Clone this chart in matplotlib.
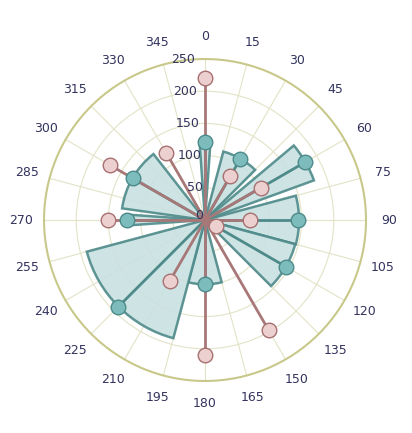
import numpy as np
import matplotlib
matplotlib.use("Agg")
import matplotlib.pyplot as plt

# Bars (wedges): start angle, end angle (deg), radius
bar_start = [-4, 15, 50, 75, 105, 165, 195, 266, 278]
bar_end = [4, 45, 70, 105, 135, 195, 255, 274, 322]
bar_value = [121, 110, 180, 146, 145, 100, 190, 121, 130]

# Teal series
teal_angle = [0, 30, 60, 90, 120, 180, 225, 270, 300]
teal_value = [121, 110, 180, 144, 146, 100, 190, 121, 129]

# Pink series
pink_angle = [0, 30, 60, 90, 120, 150, 180, 210, 270, 300, 330]
pink_value = [220, 79, 100, 70, 20, 198, 210, 110, 150, 170, 120]

rticks = [0, 50, 100, 150, 200, 250]
aticks = list(range(0, 360, 15))

fig = plt.figure(figsize=(4.12, 4.33), dpi=100)
ax = fig.add_axes([0.1068, 0.1201, 0.7816, 0.7436], projection='polar')
ax.set_theta_zero_location('N')
ax.set_theta_direction(-1)
ax.set_ylim(0, 250)
ax.spines['polar'].set_color('#c8c88a')
ax.spines['polar'].set_linewidth(1.5)
ax.set_yticks(rticks[1:-1])
ax.set_yticklabels([])
ax.set_xticks(np.radians(aticks))
ax.set_xticklabels([str(a) for a in aticks], color='#33335e', fontsize=9)
ax.tick_params(axis='x', pad=6)
ax.grid(color='#e3e3c8', linewidth=0.8)
ax.set_axisbelow(True)

for s, e, v in zip(bar_start, bar_end, bar_value):
    ax.bar(np.radians((s + e) / 2), v, width=np.radians(e - s), bottom=0,
           color='#c9e1e1', alpha=0.9, edgecolor='#4e8a8a', linewidth=1.8, zorder=2)

for a, v in zip(teal_angle, teal_value):
    ax.plot([0, np.radians(a)], [0, v], color='#4e8a8a', lw=2, zorder=3)
for a, v in zip(pink_angle, pink_value):
    ax.plot([0, np.radians(a)], [0, v], color='#a87878', lw=2, zorder=4)
ax.scatter(np.radians(teal_angle), teal_value, s=110, color='#7cbcbc',
           edgecolor='#4e8a8a', linewidth=1, zorder=5)
ax.scatter(np.radians(pink_angle), pink_value, s=110, color='#ecd0d0',
           edgecolor='#a87070', linewidth=1, zorder=6)

for r in rticks:
    ax.text(np.radians(-3.5 if r else -20), r if r else 8, str(r), ha='right', va='center',
            color='#33335e', fontsize=9, zorder=7)

fig.savefig('out.png', dpi=100)
